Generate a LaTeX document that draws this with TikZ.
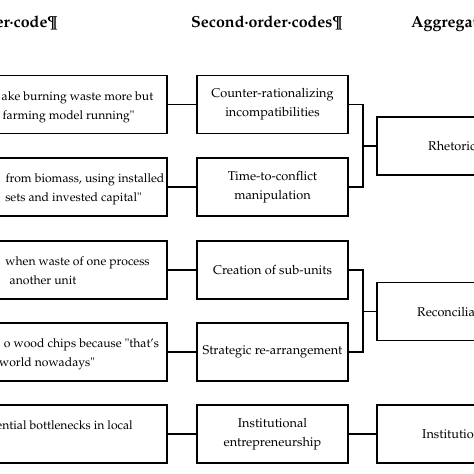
\documentclass[tikz,border=0pt]{standalone}
\usepackage[T1]{fontenc}
\usepackage{mathpazo}
\tikzset{
    box/.style = {draw, rectangle, minimum height = 58pt, inner sep = 0pt, align = center},
    head/.style = {font = \fontsize{16}{19}\selectfont\bfseries},
    body/.style = {font = \fontsize{12.75}{19}\selectfont},
    quote/.style = {font = \fontsize{12.2}{19}\selectfont, anchor = base}
}
\begin{document}
\begin{tikzpicture}[x = 1pt, y = -1pt, line width = 1.8pt, every node/.append style = {body}]
                \useasboundingbox (0, 0) rectangle (474, 474);
                \node[head, anchor = base east] (h1) at (62, 27) {er\textperiodcentered code\P};
                \node[head, anchor = base] (h2) at (267, 27) {Second\textperiodcentered order\textperiodcentered codes\P};
                \node[head, anchor = base west] (h3) at (407, 27) {Aggregat};
                \foreach \i/\y in {1/104.5, 2/187, 3/270, 4/352, 5/434}{
                    \node[box, minimum width = 214pt] (l\i) at (60, \y) {};
                }
                \foreach \n/\x/\y/\s in {l1a/77.5/100/{ake burning waste more but}, l1b/68.5/119/{farming model running"},
                        l2a/85/182/{from biomass, using installed}, l2b/73.5/201/{sets and invested capital"},
                        l3a/77.5/265/{when waste of one process}, l3b/43/284/{another unit},
                        l4a/81.5/347/{o wood chips because "that's}, l4b/47/366/{world nowadays"}}{
                    \node[quote] (\n) at (\x, \y) {\s};
                }
                \node[quote, anchor = base east] (l5a) at (137, 429) {ential bottlenecks in local};
                \foreach \i/\y/\txt in {1/104.5/{Counter-rationalizing\\incompatibilities}, 2/187/{Time-to-conflict\\manipulation},
                        3/270/{Creation of sub-units}, 4/352/{Strategic re-arrangement}, 5/434/{Institutional\\entrepreneurship}}{
                    \node[box, minimum width = 151pt] (m\i) at (272.5, \y) {\txt};
                    \draw (l\i) -- (m\i);
                }
                \foreach \i/\y/\x/\s in {1/146/424/Rhetorica, 2/311.5/413/Reconciliat, 3/434/418/Institution}{
                    \node[box, minimum width = 200pt] (r\i) at (477, \y) {};
                    \node[anchor = base west] (r\i t) at (\x, \y + 4.5) {\s};
                }
                \draw (m1.east) -- ++(14, 0) |- (r1.west);
                \draw (m2.east) -- ++(14, 0) |- (r1.west);
                \draw (m3.east) -- ++(14, 0) |- (r2.west);
                \draw (m4.east) -- ++(14, 0) |- (r2.west);
                \draw (m5) -- (r3);
            \end{tikzpicture}
\end{document}
